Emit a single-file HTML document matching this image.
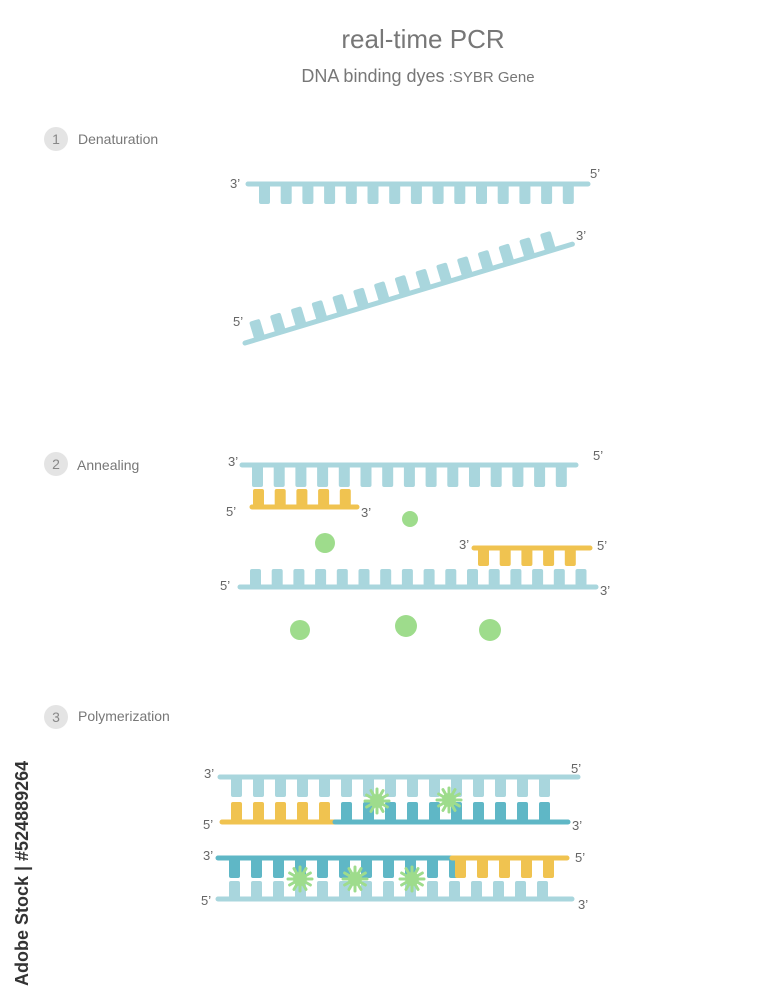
<!DOCTYPE html>
<html><head><style>
html,body{margin:0;padding:0;background:#fff;}
svg{display:block;font-family:"Liberation Sans",sans-serif;}
</style></head><body>
<svg id="s" width="770" height="1000" viewBox="0 0 770 1000">
<text x="423" y="48" font-size="26" fill="#777" text-anchor="middle">real-time PCR</text>
<text x="418" y="82" font-size="18" fill="#777" text-anchor="middle">DNA binding dyes<tspan font-size="15"> :SYBR Gene</tspan></text>
<g font-size="14" fill="#777">
<circle cx="56" cy="139" r="12" fill="#e4e4e4"/><text x="56" y="144" text-anchor="middle" fill="#888">1</text><text x="78" y="144">Denaturation</text>
<circle cx="56" cy="464" r="12" fill="#e4e4e4"/><text x="56" y="469" text-anchor="middle" fill="#888">2</text><text x="77" y="470">Annealing</text>
<circle cx="56" cy="717" r="12" fill="#e4e4e4"/><text x="56" y="722" text-anchor="middle" fill="#888">3</text><text x="78" y="721">Polymerization</text>
</g>
<text transform="translate(28,986) rotate(-90)" font-size="18" font-weight="bold" fill="#333">Adobe Stock | #524889264</text>
<g id="d"></g>
<g font-size="13" fill="#666">
<text x="230" y="188">3’</text><text x="590" y="178">5’</text>
<text x="576" y="240">3’</text><text x="233" y="326">5’</text>
<text x="228" y="466">3’</text><text x="593" y="460">5’</text>
<text x="226" y="516">5’</text><text x="361" y="517">3’</text>
<text x="459" y="549">3’</text><text x="597" y="550">5’</text>
<text x="220" y="590">5’</text><text x="600" y="595">3’</text>
<text x="204" y="778">3’</text><text x="571" y="773">5’</text>
<text x="203" y="829">5’</text><text x="572" y="830">3’</text>
<text x="203" y="860">3’</text><text x="575" y="862">5’</text>
<text x="201" y="905">5’</text><text x="578" y="909">3’</text>
</g>
</svg>
<script>
var g=document.getElementById('d'),NS='http://www.w3.org/2000/svg';
var L='#a9d6dd',D='#5fb7c6',Y='#f0c350',G='#9edc8c';
function el(t,a){var e=document.createElementNS(NS,t);for(var k in a)e.setAttribute(k,a[k]);g.appendChild(e);return e;}
function strand(x1,x2,y,col,tx0,n,sp,dir,len){
 el('line',{x1:x1,y1:y,x2:x2,y2:y,stroke:col,'stroke-width':5,'stroke-linecap':'round'});
 for(var i=0;i<n;i++){var x=tx0+i*sp;el('rect',{x:x,y:dir>0?y:y-len,width:11,height:len,rx:2,fill:col});}
}
strand(248,588,184,L,259,15,21.7,1,20);
var gd=document.createElementNS(NS,'g');gd.setAttribute('transform','translate(245,343) rotate(-16.8)');g.appendChild(gd);
(function(){var gg=g;g=gd;strand(0,342,0,L,10,15,21.7,-1,19);g=gg;})();
strand(242,576,465,L,252,15,21.7,1,22);
strand(252,357,507,Y,253,5,21.7,-1,18);
strand(474,590,548,Y,478,5,21.7,1,18);
strand(240,596,587,L,250,16,21.7,-1,18);
[[410,519,8],[325,543,10],[300,630,10],[406,626,11],[490,630,11]].forEach(function(c){el('circle',{cx:c[0],cy:c[1],r:c[2],fill:G});});
strand(220,578,777,L,231,15,22,1,20);
strand(222,335,822,Y,231,5,22,-1,20);
strand(335,568,822,D,341,10,22,-1,20);
strand(218,452,858,D,229,11,22,1,20);
strand(452,567,858,Y,455,5,22,1,20);
strand(218,572,899,L,229,15,22,-1,18);
function star(cx,cy){for(var i=0;i<12;i++){var a=i*Math.PI/6;el('line',{x1:cx,y1:cy,x2:cx+12*Math.cos(a),y2:cy+12*Math.sin(a),stroke:G,'stroke-width':3,'stroke-linecap':'round'});}el('circle',{cx:cx,cy:cy,r:7,fill:G});}
[[377,801],[449,800],[300,879],[355,879],[412,879]].forEach(function(c){star(c[0],c[1]);});
</script>
</body></html>
